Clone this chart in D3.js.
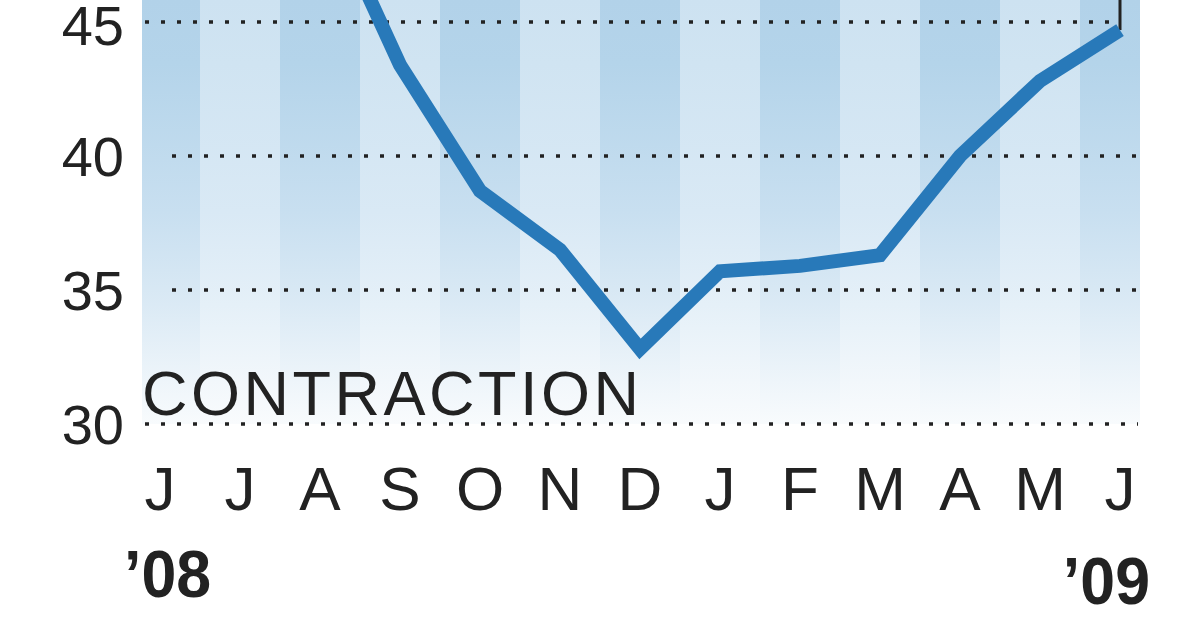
<!DOCTYPE html>
<html lang="en">
<head>
  <meta charset="UTF-8">
  <title>ISM index</title>
  <script src="https://d3js.org/d3.v7.min.js"></script>
  <style>
  body { margin: 0; background: #fff; }
  .tick-y, .tick-x { font-family: "Liberation Sans", Arial, sans-serif; fill: #222; }
  .yr { font-family: "Liberation Sans", Arial, sans-serif; font-weight: bold; fill: #222; }
  </style>
</head>
<body>
<script>
// months Jun 2008 .. Jun 2009
months = ["J", "J", "A", "S", "O", "N", "D", "J", "F", "M", "A", "M", "J"]
values = [50.2, 50.0, 49.9, 43.4, 38.7, 36.5, 32.8, 35.7, 35.9, 36.3, 40.0, 42.8, 44.7]
yTicks = [30, 35, 40, 45]
yearLabels = ["’08", "’09"]

width = 1200
height = 630
plotLeft = 142
plotRight = 1140

keys = months.map((m, i) => i)
x = d3.scaleBand().domain(keys).range([120, 1160])
y = d3.scaleLinear().domain([30, 45]).range([424, 22])

svg = d3.select("body").append("svg")
  .attr("width", width)
  .attr("height", height)

defs = svg.append("defs")
grad = (id, stops) => {
  const g = defs.append("linearGradient").attr("id", id)
    .attr("gradientUnits", "userSpaceOnUse")
    .attr("x1", 0).attr("x2", 0).attr("y1", 0).attr("y2", y(30))
  stops.forEach(s => g.append("stop").attr("offset", s[0]).attr("stop-color", s[1]))
}
grad("dark", [[0, "#b2d2e9"], [0.15, "#b4d4ea"], [0.5, "#c8dff0"], [0.72, "#dbeaf5"], [0.9, "#eef5fa"], [1, "#f8fbfd"]])
grad("light", [[0, "#cde2f1"], [0.15, "#d0e4f2"], [0.5, "#d9e9f5"], [0.72, "#e5f0f8"], [0.9, "#f2f7fb"], [1, "#f9fbfd"]])

defs.append("clipPath").attr("id", "plot")
  .append("rect").attr("x", plotLeft).attr("y", 0)
  .attr("width", plotRight - plotLeft).attr("height", y(30))

// alternating month columns
svg.append("g").attr("clip-path", "url(#plot)")
  .selectAll("rect")
  .data(keys)
  .join("rect")
    .attr("x", d => x(d))
    .attr("y", 0)
    .attr("width", x.bandwidth() + 0.5)
    .attr("height", y(30))
    .attr("fill", d => d % 2 ? "url(#light)" : "url(#dark)")

// dotted gridlines
gridStart = {30: 145, 35: 172, 40: 172, 45: 145}
gridEnd = {30: 1138, 35: 1138, 40: 1138, 45: 1118}
svg.append("g")
  .selectAll("line")
  .data(yTicks)
  .join("line")
    .attr("x1", d => gridStart[d])
    .attr("x2", d => gridEnd[d])
    .attr("y1", d => y(d))
    .attr("y2", d => y(d))
    .attr("stroke", "#222")
    .attr("stroke-width", 3.5)
    .attr("stroke-dasharray", "4,12")

svg.append("g")
  .selectAll("text")
  .data(yTicks)
  .join("text")
    .attr("class", "tick-y")
    .attr("x", 124)
    .attr("y", d => Math.max(y(d), 25))
    .attr("dy", "0.36em")
    .attr("text-anchor", "end")
    .attr("font-size", 56)
    .text(d => d)

svg.append("text")
  .attr("class", "tick-y")
  .attr("x", 142)
  .attr("y", 415)
  .attr("font-size", 63)
  .attr("letter-spacing", 3.5)
  .text("CONTRACTION")

// leader line to latest value
last = keys[keys.length - 1]
svg.append("line")
  .attr("x1", x(last) + x.bandwidth() / 2)
  .attr("x2", x(last) + x.bandwidth() / 2)
  .attr("y1", 0)
  .attr("y2", y(values[last]))
  .attr("stroke", "#222")
  .attr("stroke-width", 3)

line = d3.line()
  .x(d => x(d) + x.bandwidth() / 2)
  .y(d => y(values[d]))

svg.append("path")
  .datum(keys)
  .attr("d", line)
  .attr("fill", "none")
  .attr("stroke", "#2879b9")
  .attr("stroke-width", 14)

svg.append("g")
  .selectAll("text")
  .data(keys)
  .join("text")
    .attr("class", "tick-x")
    .attr("x", d => x(d) + x.bandwidth() / 2)
    .attr("y", 510)
    .attr("text-anchor", "middle")
    .attr("font-size", 62)
    .text(d => months[d])

svg.append("text")
  .attr("class", "yr")
  .attr("transform", "translate(124,597) scale(0.95,1)")
  .attr("font-size", 66)
  .text(yearLabels[0])

svg.append("text")
  .attr("class", "yr")
  .attr("transform", "translate(1150,604) scale(0.95,1)")
  .attr("text-anchor", "end")
  .attr("font-size", 66)
  .text(yearLabels[1])
</script>
</body>
</html>
